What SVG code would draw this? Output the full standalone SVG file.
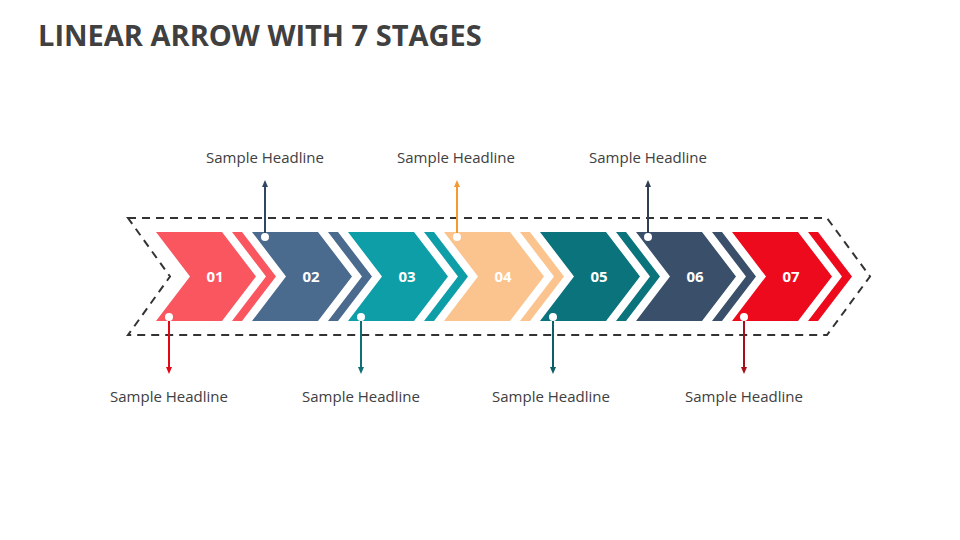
<svg xmlns="http://www.w3.org/2000/svg" width="960" height="540" viewBox="0 0 960 540">
<defs>
<style>
.t{font-family:"Open Sans","Liberation Sans",sans-serif;font-size:15px;fill:#404040;text-anchor:middle}
.n{font-family:"Open Sans","Liberation Sans",sans-serif;font-size:15px;font-weight:bold;fill:#fff;text-anchor:middle}
.dot{fill:#fff}
</style>
<polygon id="body" points="0,0 66,0 100,44.5 66,89 0,89 34,44.5"/>
<polygon id="stripe" points="76,0 86,0 120,44.5 86,89 76,89 110,44.5"/>
</defs>
<rect width="960" height="540" fill="#fff"/>
<text x="38" y="46" font-family="'Open Sans','Liberation Sans',sans-serif" font-weight="bold" font-size="29" fill="#404040">LINEAR ARROW WITH 7 STAGES</text>
<polygon points="128,218 827,218 870,276.5 827,335 128,335 170,276.5" fill="none" stroke="#333" stroke-width="2" stroke-dasharray="8,6"/>
<g id="stage1" transform="translate(156,232)" fill="#F95660"><use href="#body"/><use href="#stripe"/><text class="n" x="59" y="50">01</text></g>
<g id="stage2" transform="translate(252,232)" fill="#4A6A8E"><use href="#body"/><use href="#stripe"/><text class="n" x="59" y="50">02</text></g>
<g id="stage3" transform="translate(348,232)" fill="#0E9EA8"><use href="#body"/><use href="#stripe"/><text class="n" x="59" y="50">03</text></g>
<g id="stage4" transform="translate(444,232)" fill="#FBC48E"><use href="#body"/><use href="#stripe"/><text class="n" x="59" y="50">04</text></g>
<g id="stage5" transform="translate(540,232)" fill="#0B737B"><use href="#body"/><use href="#stripe"/><text class="n" x="59" y="50">05</text></g>
<g id="stage6" transform="translate(636,232)" fill="#3A4F6A"><use href="#body"/><use href="#stripe"/><text class="n" x="59" y="50">06</text></g>
<g id="stage7" transform="translate(732,232)" fill="#EE0A1D"><use href="#body"/><use href="#stripe"/><text class="n" x="59" y="50">07</text></g>
<g id="connectors" stroke-width="2">
<line x1="169" y1="317" x2="169" y2="368" stroke="#E30613"/><polygon points="166,367 172,367 169,374" fill="#E30613"/>
<line x1="265" y1="237" x2="265" y2="186" stroke="#2F4763"/><polygon points="262,187 268,187 265,180" fill="#2F4763"/>
<line x1="361" y1="317" x2="361" y2="368" stroke="#0E6F75"/><polygon points="358,367 364,367 361,374" fill="#0E6F75"/>
<line x1="457" y1="237" x2="457" y2="186" stroke="#F39A33"/><polygon points="454,187 460,187 457,180" fill="#F39A33"/>
<line x1="553" y1="317" x2="553" y2="368" stroke="#0B5F66"/><polygon points="550,367 556,367 553,374" fill="#0B5F66"/>
<line x1="648" y1="237" x2="648" y2="186" stroke="#2F3E52"/><polygon points="645,187 651,187 648,180" fill="#2F3E52"/>
<line x1="744" y1="317" x2="744" y2="368" stroke="#A50F1A"/><polygon points="741,367 747,367 744,374" fill="#A50F1A"/>
<circle class="dot" cx="169" cy="317" r="4"/><circle class="dot" cx="265" cy="237" r="4"/><circle class="dot" cx="361" cy="317" r="4"/><circle class="dot" cx="457" cy="237" r="4"/><circle class="dot" cx="553" cy="317" r="4"/><circle class="dot" cx="648" cy="237" r="4"/><circle class="dot" cx="744" cy="317" r="4"/>
</g>
<g id="labels">
<text class="t" x="265" y="163">Sample Headline</text>
<text class="t" x="456" y="163">Sample Headline</text>
<text class="t" x="648" y="163">Sample Headline</text>
<text class="t" x="169" y="402">Sample Headline</text>
<text class="t" x="361" y="402">Sample Headline</text>
<text class="t" x="551" y="402">Sample Headline</text>
<text class="t" x="744" y="402">Sample Headline</text>
</g>
</svg>
